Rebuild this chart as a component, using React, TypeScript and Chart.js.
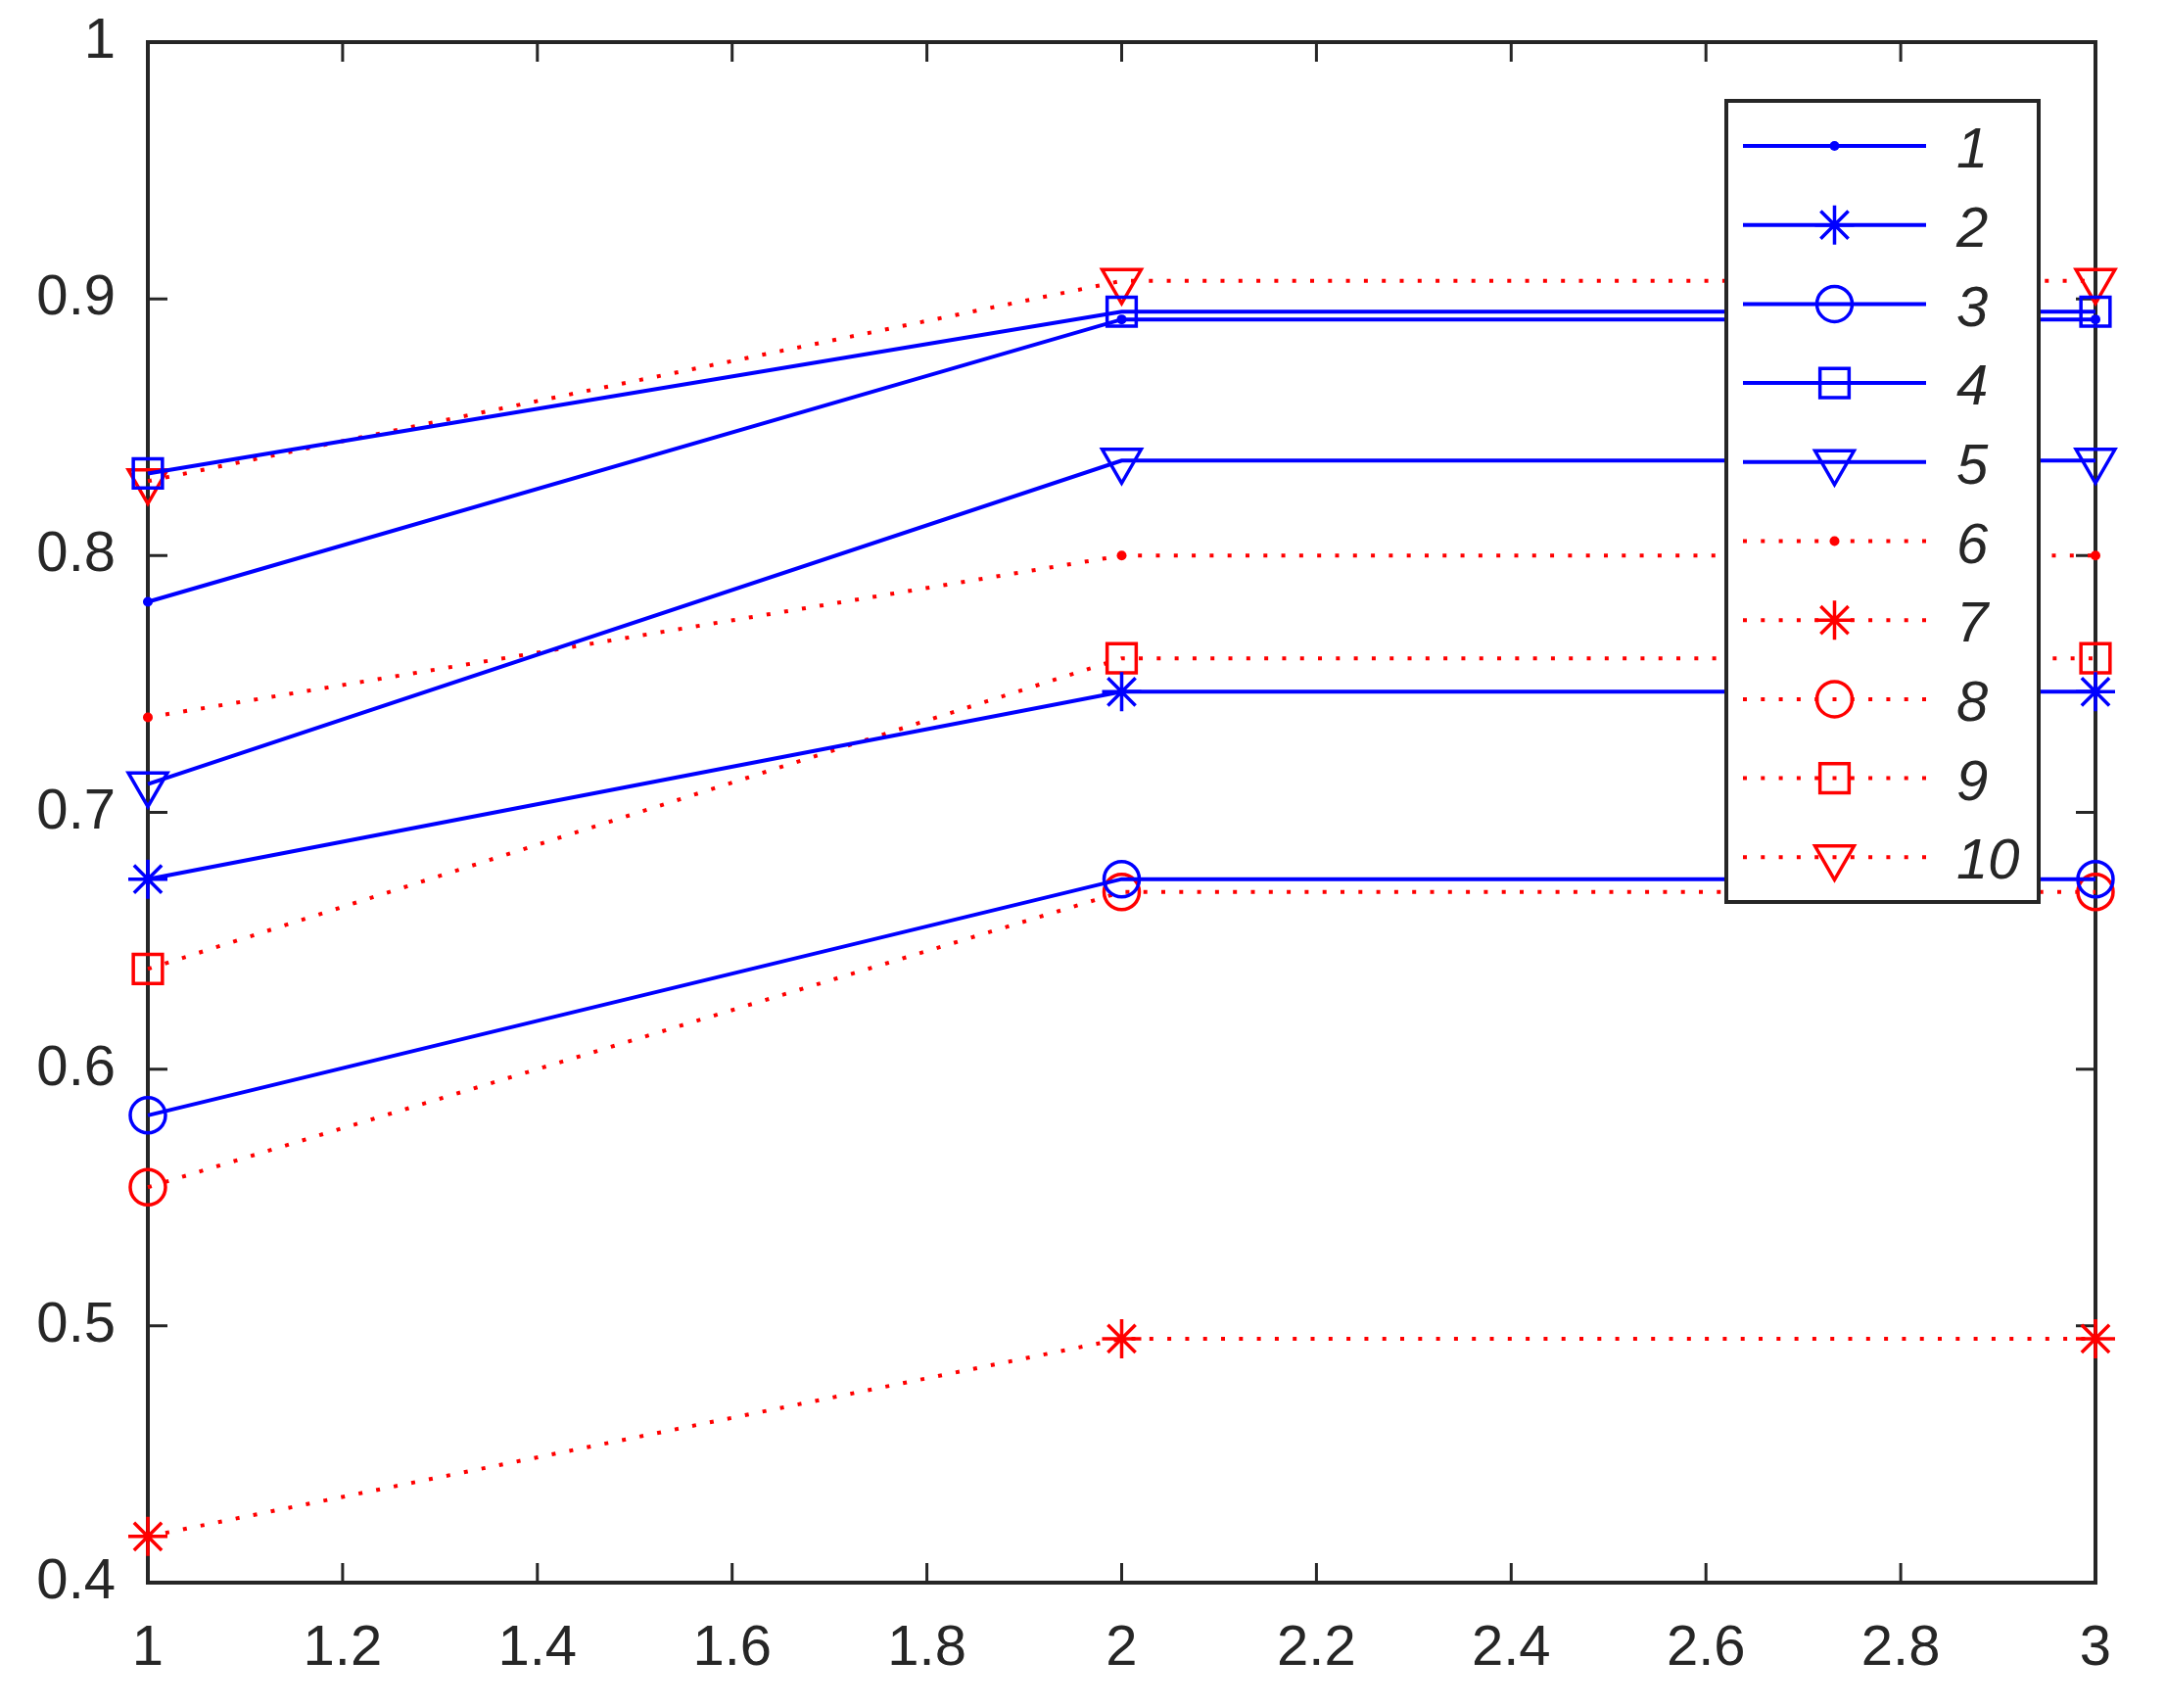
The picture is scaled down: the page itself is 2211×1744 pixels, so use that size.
import React, { useEffect, useRef } from "react";
import { Chart, registerables } from "chart.js";
import { drawPoint } from "chart.js/helpers";

Chart.register(...registerables);

// ---------- data ----------
const xValues = [1, 2, 3];
const xTickValues = [1, 1.2, 1.4, 1.6, 1.8, 2, 2.2, 2.4, 2.6, 2.8, 3];
const yTickValues = [0.4, 0.5, 0.6, 0.7, 0.8, 0.9, 1];
const seriesNames = ["1", "2", "3", "4", "5", "6", "7", "8", "9", "10"];

const series1 = [0.782, 0.892, 0.892];
const series2 = [0.674, 0.747, 0.747];
const series3 = [0.582, 0.674, 0.674];
const series4 = [0.832, 0.895, 0.895];
const series5 = [0.711, 0.837, 0.837];
const series6 = [0.737, 0.8, 0.8];
const series7 = [0.418, 0.495, 0.495];
const series8 = [0.554, 0.669, 0.669];
const series9 = [0.639, 0.76, 0.76];
const series10 = [0.829, 0.907, 0.907];

const allSeries = [series1, series2, series3, series4, series5, series6, series7, series8, series9, series10];

// ---------- styles ----------
const BLUE = "#0000ff";
const RED = "#ff0000";
const AXIS = "#262626";
const FONT = '"Liberation Sans", Arial, sans-serif';

type MarkerStyle = { pointStyle: string; radius: number; rotation: number; filled: boolean };
const markerStyles: MarkerStyle[] = [
  { pointStyle: "circle", radius: 5, rotation: 0, filled: true },
  { pointStyle: "star", radius: 20, rotation: 0, filled: false },
  { pointStyle: "circle", radius: 18, rotation: 0, filled: false },
  { pointStyle: "rect", radius: 21, rotation: 0, filled: false },
  { pointStyle: "triangle", radius: 23, rotation: 180, filled: false },
];

function buildDatasets() {
  return allSeries.map((vals, i) => {
    const isBlue = i < 5;
    const color = isBlue ? BLUE : RED;
    const m = markerStyles[i % 5];
    return {
      label: seriesNames[i],
      data: vals.map((v, k) => ({ x: xValues[k], y: v })),
      borderColor: color,
      borderWidth: 4,
      borderDash: isBlue ? [] : [4, 14.3],
      borderCapStyle: "butt",
      tension: 0,
      fill: false,
      pointStyle: m.pointStyle,
      pointRadius: m.radius,
      pointHoverRadius: m.radius,
      pointRotation: m.rotation,
      pointBorderColor: color,
      pointBackgroundColor: m.filled ? color : "rgba(0,0,0,0)",
      pointBorderWidth: m.filled ? 0 : 3.5,
      clip: false,
    };
  });
}

const framePlugin = {
  id: "matlabFrame",
  beforeDatasetsDraw(chart: any) {
    const { ctx, chartArea: a, scales } = chart;
    ctx.save();
    ctx.strokeStyle = AXIS;
    ctx.lineWidth = 4;
    ctx.strokeRect(a.left, a.top, a.right - a.left, a.bottom - a.top);
    ctx.lineWidth = 3;
    ctx.beginPath();
    const tl = 20;
    for (const v of xTickValues) {
      const px = scales.x.getPixelForValue(v);
      ctx.moveTo(px, a.bottom);
      ctx.lineTo(px, a.bottom - tl);
      ctx.moveTo(px, a.top);
      ctx.lineTo(px, a.top + tl);
    }
    for (const v of yTickValues) {
      const py = scales.y.getPixelForValue(v);
      ctx.moveTo(a.left, py);
      ctx.lineTo(a.left + tl, py);
      ctx.moveTo(a.right, py);
      ctx.lineTo(a.right - tl, py);
    }
    ctx.stroke();
    ctx.restore();
  },
};

const legendPlugin = {
  id: "matlabLegend",
  afterDraw(chart: any, _args: any, opts: any) {
    const { ctx } = chart;
    ctx.save();
    ctx.fillStyle = "#ffffff";
    ctx.fillRect(opts.x, opts.y, opts.w, opts.h);
    ctx.strokeStyle = AXIS;
    ctx.lineWidth = 4;
    ctx.strokeRect(opts.x, opts.y, opts.w, opts.h);
    chart.data.datasets.forEach((ds: any, i: number) => {
      const y = opts.rowStart + i * opts.rowStep;
      ctx.save();
      ctx.strokeStyle = ds.borderColor;
      ctx.lineWidth = ds.borderWidth;
      ctx.setLineDash(ds.borderDash || []);
      ctx.lineCap = "butt";
      ctx.beginPath();
      ctx.moveTo(opts.lineX0, y);
      ctx.lineTo(opts.lineX1, y);
      ctx.stroke();
      ctx.restore();

      ctx.save();
      ctx.setLineDash([]);
      ctx.strokeStyle = ds.pointBorderColor;
      ctx.fillStyle = ds.pointBackgroundColor;
      ctx.lineWidth = ds.pointBorderWidth;
      drawPoint(
        ctx,
        {
          pointStyle: ds.pointStyle,
          rotation: ds.pointRotation || 0,
          radius: ds.pointRadius,
          borderWidth: ds.pointBorderWidth,
        } as any,
        (opts.lineX0 + opts.lineX1) / 2,
        y
      );
      ctx.restore();

      ctx.fillStyle = AXIS;
      ctx.font = `italic 58px ${FONT}`;
      ctx.textBaseline = "middle";
      ctx.textAlign = "left";
      ctx.fillText(ds.label, opts.textX, y + opts.textDy);
    });
    ctx.restore();
  },
};

export default function App() {
  const canvasRef = useRef<HTMLCanvasElement | null>(null);

  useEffect(() => {
    document.body.style.margin = "0";
    const canvas = canvasRef.current;
    if (!canvas) return;
    const tickFont = { family: FONT, size: 58 };
    const chart = new Chart(canvas, {
      type: "line",
      data: { datasets: buildDatasets() as any },
      plugins: [framePlugin, legendPlugin],
      options: {
        animation: false,
        responsive: false,
        devicePixelRatio: 1,
        layout: { autoPadding: false, padding: { top: 43, right: 71, left: 0, bottom: 0 } },
        scales: {
          x: {
            type: "linear",
            min: 1,
            max: 3,
            afterBuildTicks: (s: any) => {
              s.ticks = xTickValues.map((v) => ({ value: v }));
            },
            afterFit: (s: any) => {
              s.height = 128;
              s.paddingLeft = 0;
              s.paddingRight = 0;
            },
            ticks: {
              callback: (v: any) => String(v),
              font: tickFont,
              color: AXIS,
              padding: 33,
              maxRotation: 0,
              autoSkip: false,
            },
            grid: { display: false, drawTicks: false },
            border: { display: false },
          },
          y: {
            type: "linear",
            min: 0.4,
            max: 1,
            afterBuildTicks: (s: any) => {
              s.ticks = yTickValues.map((v) => ({ value: v }));
            },
            afterFit: (s: any) => {
              s.width = 151;
              s.paddingTop = 0;
              s.paddingBottom = 0;
            },
            ticks: {
              callback: (v: any) => String(v),
              font: tickFont,
              color: AXIS,
              padding: 33,
              autoSkip: false,
            },
            grid: { display: false, drawTicks: false },
            border: { display: false },
          },
        },
        plugins: {
          legend: { display: false },
          tooltip: { enabled: false },
          matlabLegend: {
            x: 1763,
            y: 103,
            w: 319,
            h: 818,
            rowStart: 149,
            rowStep: 80.7,
            lineX0: 1780,
            lineX1: 1967,
            textX: 1998,
            textDy: 6,
          },
        } as any,
      },
    });
    return () => chart.destroy();
  }, []);

  return (
    <div style={{ width: 2211, height: 1744, background: "#fff" }}>
      <canvas ref={canvasRef} width={2211} height={1744} />
    </div>
  );
}
